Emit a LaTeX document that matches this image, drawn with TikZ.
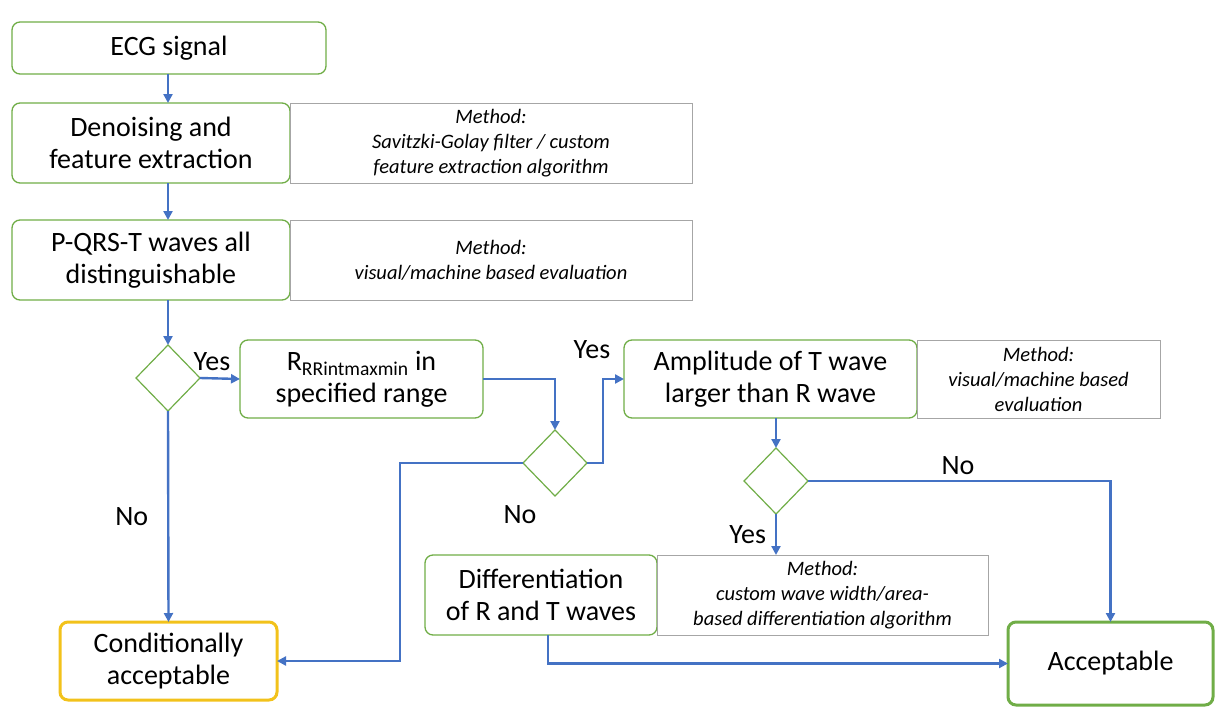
\documentclass[tikz,border=0pt]{standalone}
\usepackage{fontspec}
\setmainfont{Carlito}
\usetikzlibrary{shapes.geometric,arrows.meta}
\definecolor{gr}{HTML}{70AD47}
\definecolor{bl}{HTML}{4472C4}
\definecolor{yl}{HTML}{F2C21B}
\definecolor{gy}{HTML}{A6A6A6}
\begin{document}
\begin{tikzpicture}[x=1pt,y=-1pt,
  every node/.style={inner sep=0pt,outer sep=0pt,align=center},
  gbox/.style={draw=gr,line width=1.3pt,rounded corners=8pt,font=\fontsize{28}{32}\selectfont},
  mbox/.style={draw=gy,line width=1pt,font=\fontsize{20.5}{25}\selectfont\itshape},
  dia/.style={draw=gr,line width=1.2pt,diamond,minimum width=64pt,minimum height=66pt},
  arr/.style={draw=bl,line width=2.4pt,-{Triangle[length=9pt,width=9pt]}},
  lbl/.style={font=\fontsize{28}{32}\selectfont}]
\useasboundingbox (0,0) rectangle (1215,720);
\node[gbox,minimum width=314pt,minimum height=52pt] (ecg) at (169,48) {ECG signal};
\node[gbox,minimum width=278pt,minimum height=80pt] (den) at (151,143) {Denoising and\\feature extraction};
\node[mbox,minimum width=402pt,minimum height=80pt] (denm) at (491,143) {Method:\\Savitzki-Golay filter / custom\\feature extraction algorithm};
\node[gbox,minimum width=278pt,minimum height=80pt] (pq) at (151,260) {P-QRS-T waves all\\distinguishable};
\node[mbox,minimum width=402pt,minimum height=80pt] (pqm) at (491,260) {Method:\\visual/machine based evaluation};
\node[dia] (d1) at (168,378) {};
\node[gbox,minimum width=243pt,minimum height=78pt] (rr) at (361.5,379) {R\textsubscript{RRintmaxmin} in\\specified range};
\node[dia] (d2) at (555,463) {};
\node[gbox,minimum width=293pt,minimum height=78pt] (amp) at (770.5,379) {Amplitude of T wave\\larger than R wave};
\node[mbox,minimum width=243pt,minimum height=78pt] (ampm) at (1038.5,379) {Method:\\visual/machine based\\evaluation};
\node[dia] (d3) at (776,481) {};
\node[gbox,minimum width=232pt,minimum height=80pt] (dif) at (541,595) {Differentiation\\of R and T waves};
\node[mbox,minimum width=331pt,minimum height=80pt] (difm) at (822.5,595) {Method:\\custom wave width/area-\\based differentiation algorithm};
\node[gbox,draw=yl,line width=3pt,minimum width=217pt,minimum height=78pt] (ca) at (168.5,661) {Conditionally\\acceptable};
\node[gbox,line width=3pt,minimum width=205pt,minimum height=83pt] (acc) at (1110.5,663.5) {Acceptable};
\draw[arr] (ecg.south -| d1) -- (den.north -| d1);
\draw[arr] (den.south -| d1) -- (pq.north -| d1);
\draw[arr] (pq.south -| d1) -- (d1.north);
\draw[arr] (d1.east) -- (rr.west) node[lbl,pos=0.3,above=8pt] {Yes};
\draw[arr] (d1.south) -- (ca.north) node[lbl,pos=0.5,left=20pt] {No};
\draw[arr] (rr.east) -| (d2.north);
\draw[arr] (d2.east) -- ++(16,0) |- (amp.west);
\node[lbl] at (592,350) {Yes};
\draw[arr] (d2.west) -- (400,463) |- (ca.east);
\node[lbl] at (520,515) {No};
\draw[arr] (amp.south -| d3) -- (d3.north);
\draw[arr] (d3.south) -- (dif.north -| d3) node[lbl,pos=0.5,left=10pt] {Yes};
\draw[arr] (d3.east) -| (acc.north);
\node[lbl] at (958,466) {No};
\draw[arr] (548,635) |- (acc.west);
\end{tikzpicture}
\end{document}
